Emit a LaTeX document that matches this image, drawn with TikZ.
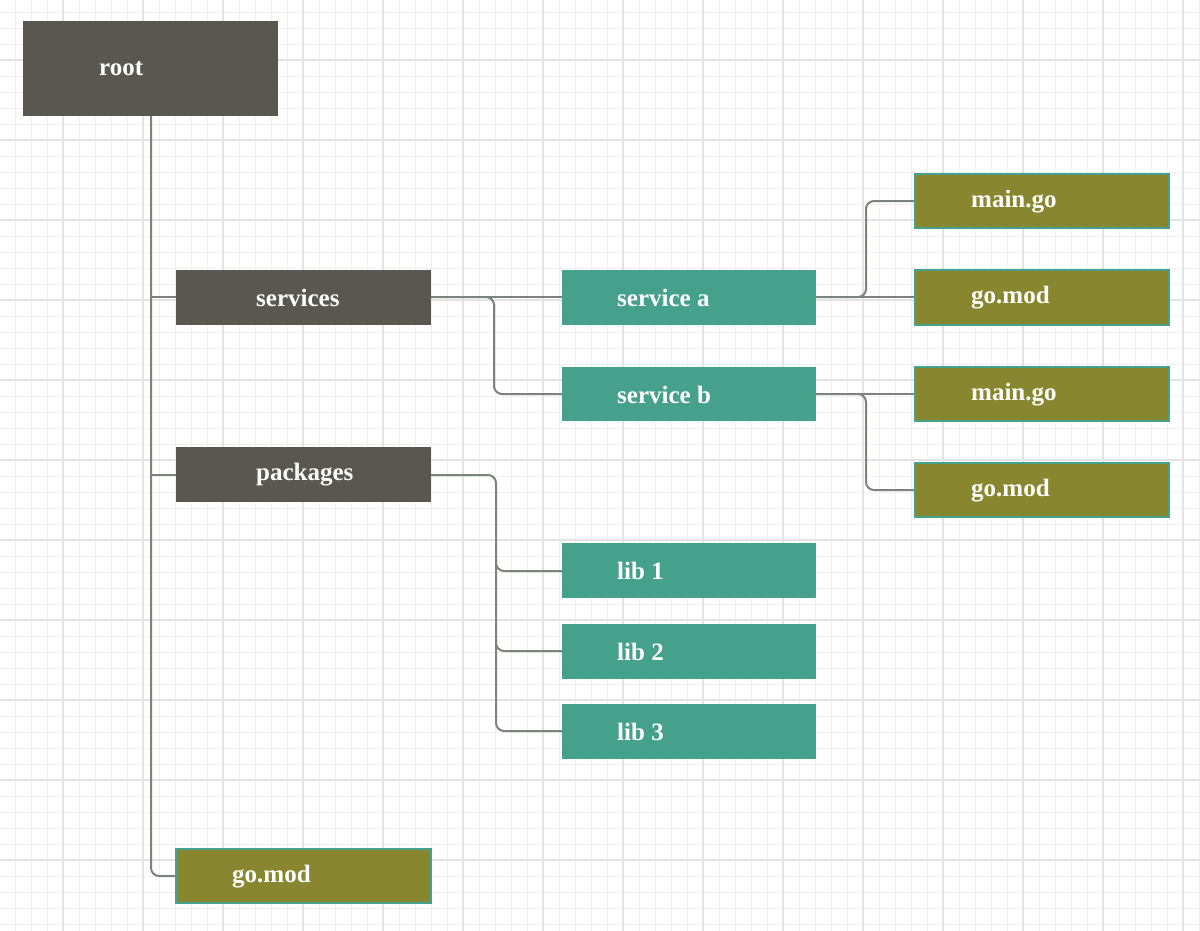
\documentclass[tikz,border=0pt]{standalone}
\usepackage{fontspec}
\setmainfont{Liberation Serif}
\begin{document}
\begin{tikzpicture}[x=1pt,y=-1pt,
  dark/.style={fill={rgb,255:red,90;green,86;blue,80}},
  teal/.style={fill={rgb,255:red,69;green,160;blue,140}},
  olive/.style={fill={rgb,255:red,136;green,135;blue,47},draw={rgb,255:red,69;green,160;blue,140},line width=1.5pt},
  lbl/.style={anchor=west,text=white,font=\fontsize{25}{27}\selectfont\bfseries,inner sep=0pt},
  con/.style={draw={rgb,255:red,122;green,132;blue,120},line width=2pt,rounded corners=8pt}]
\useasboundingbox (0,0) rectangle (1200,931);
\fill[white] (0,0) rectangle (1200,931);
\begin{scope}
\clip (0,0) rectangle (1200,931);
\foreach \i in {0,...,75} {\draw[black!6,line width=0.8pt] (\i*16-1,0) -- (\i*16-1,931);}
\foreach \i in {0,...,59} {\draw[black!6,line width=0.8pt] (0,\i*16-4) -- (1200,\i*16-4);}
\foreach \i in {0,...,15} {\draw[black!11,line width=1.2pt] (\i*80-17,0) -- (\i*80-17,931);}
\foreach \i in {0,...,12} {\draw[black!11,line width=1.2pt] (0,\i*80-20) -- (1200,\i*80-20);}
\end{scope}
% connectors
\coordinate (rb) at (151,116);
\draw[con] (rb) -- (151,876) -- (176,876);
\draw[con] (151,297) -- (176,297);
\draw[con] (151,475) -- (176,475);
\draw[con] (431,297) -- (562,297);
\draw[con] (431,297) -- (494,297) -- (494,394) -- (562,394);
\draw[con] (431,475) -- (496,475) -- (496,571) -- (562,571);
\draw[con] (496,560) -- (496,651) -- (562,651);
\draw[con] (496,640) -- (496,731) -- (562,731);
\draw[con] (816,297) -- (915,297);
\draw[con] (816,297) -- (866,297) -- (866,201) -- (915,201);
\draw[con] (816,394) -- (915,394);
\draw[con] (816,394) -- (866,394) -- (866,490) -- (915,490);
% boxes
\fill[dark] (23,21) rectangle (278,116);
\node[lbl] (root) at (99,69) {root};
\fill[dark] (176,270) rectangle (431,325);
\node[lbl] (services) at (256,298) {services};
\fill[dark] (176,447) rectangle (431,502);
\node[lbl] (packages) at (256,475) {packages};
\filldraw[olive] (176,849) rectangle (431,903);
\node[lbl] (gomod) at (232,877) {go.mod};
\fill[teal] (562,270) rectangle (816,325);
\node[lbl] (sa) at (617,298) {service a};
\fill[teal] (562,367) rectangle (816,421);
\node[lbl] (sb) at (617,395) {service b};
\fill[teal] (562,543) rectangle (816,598);
\node[lbl] (l1) at (617,571) {lib 1};
\fill[teal] (562,624) rectangle (816,679);
\node[lbl] (l2) at (617,652) {lib 2};
\fill[teal] (562,704) rectangle (816,759);
\node[lbl] (l3) at (617,732) {lib 3};
\filldraw[olive] (915,174) rectangle (1169,228);
\node[lbl] (m1) at (971,202) {main.go};
\filldraw[olive] (915,270) rectangle (1169,325);
\node[lbl] (g1) at (971,298) {go.mod};
\filldraw[olive] (915,367) rectangle (1169,421);
\node[lbl] (m2) at (971,395) {main.go};
\filldraw[olive] (915,463) rectangle (1169,517);
\node[lbl] (g2) at (971,491) {go.mod};
\end{tikzpicture}
\end{document}
